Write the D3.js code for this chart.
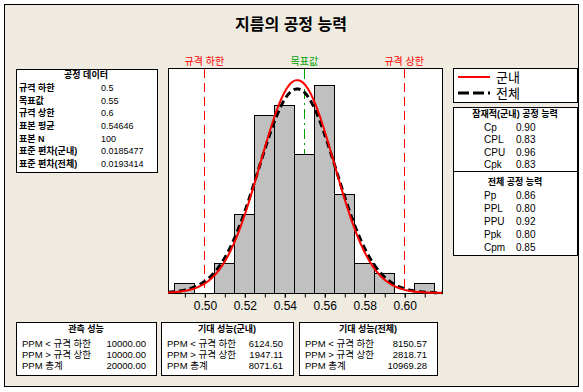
<!DOCTYPE html>
<html>
<head>
<meta charset="utf-8">
<script src="https://cdn.jsdelivr.net/npm/d3@7"></script>
<style>
  body { margin: 0; background: #fff; }
  svg text { font-family: "Liberation Sans", "Noto Sans CJK KR", sans-serif; }
</style>
</head>
<body>
<svg id="chart"></svg>
<script>
var width = 583;
var height = 392;

// histogram data (bin centres, counts)
var binCenters = [0.49, 0.50, 0.51, 0.52, 0.53, 0.54, 0.55, 0.56, 0.57, 0.58, 0.59, 0.60, 0.61];
var binCounts = [1, 0, 3, 8, 18, 19, 14, 21, 10, 3, 2, 0, 1];
var binWidth = 0.01;
var xTicks = [0.50, 0.52, 0.54, 0.56, 0.58, 0.60];
var xMinorTicks = [0.49, 0.50, 0.51, 0.52, 0.53, 0.54, 0.55, 0.56, 0.57, 0.58, 0.59, 0.60, 0.61];

// process
var lsl = 0.5, target = 0.55, usl = 0.6;
var sampleMean = 0.54646, sampleN = 100;
var sigmaWithin = 0.0185477, sigmaOverall = 0.0193414;

var processLabels = ['규격 하한', '목표값', '규격 상한', '표본 평균', '표본 N', '표준 편차(군내)', '표준 편차(전체)'];
var processValues = ['0.5', '0.55', '0.6', '0.54646', '100', '0.0185477', '0.0193414'];

var withinLabels = ['Cp', 'CPL', 'CPU', 'Cpk'];
var withinValues = ['0.90', '0.83', '0.96', '0.83'];
var overallLabels = ['Pp', 'PPL', 'PPU', 'Ppk', 'Cpm'];
var overallValues = ['0.86', '0.80', '0.92', '0.80', '0.85'];

var ppmLabels = ['PPM < 규격 하한', 'PPM > 규격 상한', 'PPM 총계'];
var ppmObserved = ['10000.00', '10000.00', '20000.00'];
var ppmWithin = ['6124.50', '1947.11', '8071.61'];
var ppmOverall = ['8150.57', '2818.71', '10969.28'];

var svg = d3.select('#chart')
    .attr('width', width)
    .attr('height', height);

// outer panel
svg.append('rect')
    .attr('x', 4.5).attr('y', 4.5)
    .attr('width', 574).attr('height', 382)
    .attr('fill', '#efebe1')
    .attr('stroke', '#000');

svg.append('text')
    .attr('x', 291).attr('y', 30)
    .attr('text-anchor', 'middle')
    .style('font-size', '16px')
    .style('font-weight', 'bold')
    .text('지름의 공정 능력');

// plot area
var plot = { left: 168, top: 68, right: 442, bottom: 293 };

var x = d3.scaleLinear()
    .domain([0.4818, 0.6189])
    .range([plot.left, plot.right]);

var y = d3.scaleLinear()
    .domain([0, 22.73])
    .range([plot.bottom, plot.top]);

svg.append('rect')
    .attr('x', plot.left + 0.5).attr('y', plot.top + 0.5)
    .attr('width', plot.right - plot.left).attr('height', plot.bottom - plot.top)
    .attr('fill', '#fff')
    .attr('stroke', '#000');

// spec lines
[lsl, usl].forEach(function (v) {
    svg.append('line')
        .attr('x1', Math.round(x(v)) + 0.5).attr('x2', Math.round(x(v)) + 0.5)
        .attr('y1', plot.top + 1).attr('y2', plot.bottom)
        .attr('stroke', '#ff0000')
        .attr('stroke-dasharray', '9,5');
});
svg.append('line')
    .attr('x1', Math.round(x(target)) + 0.5).attr('x2', Math.round(x(target)) + 0.5)
    .attr('y1', plot.top + 1).attr('y2', plot.bottom)
    .attr('stroke', '#00a000')
    .attr('stroke-dasharray', '10,4,2,4');

var specLabels = [
    { v: lsl, t: '규격 하한', c: '#ff0000' },
    { v: target, t: '목표값', c: '#00a000' },
    { v: usl, t: '규격 상한', c: '#ff0000' }
];
svg.selectAll('.spec-label')
    .data(specLabels)
    .enter().append('text')
    .attr('x', function (d) { return x(d.v); })
    .attr('y', 65)
    .attr('text-anchor', 'middle')
    .attr('fill', function (d) { return d.c; })
    .style('font-size', '10px')
    .text(function (d) { return d.t; });

// histogram bars
svg.selectAll('.bar')
    .data(binCenters.map(function (c, i) { return { c: c, n: binCounts[i] }; })
        .filter(function (d) { return d.n > 0; }))
    .enter().append('rect')
    .attr('x', function (d) { return Math.round(x(d.c - binWidth / 2)) + 0.5; })
    .attr('width', function (d) { return Math.round(x(d.c + binWidth / 2)) - Math.round(x(d.c - binWidth / 2)); })
    .attr('y', function (d) { return Math.round(y(d.n)) + 0.5; })
    .attr('height', function (d) { return plot.bottom - Math.round(y(d.n)); })
    .attr('fill', '#c0c0c0')
    .attr('stroke', '#000');

// fitted normal curves
function normalCurve(sigma) {
    var k = sampleN * binWidth / (sigma * Math.sqrt(2 * Math.PI));
    return d3.range(0, 201).map(function (i) {
        var v = x.domain()[0] + (x.domain()[1] - x.domain()[0]) * i / 200;
        var z = (v - sampleMean) / sigma;
        return [v, k * Math.exp(-0.5 * z * z)];
    });
}

var line = d3.line()
    .x(function (d) { return x(d[0]); })
    .y(function (d) { return y(d[1]); })
    .curve(d3.curveBasis);

svg.append('path')
    .attr('d', line(normalCurve(sigmaOverall)))
    .attr('fill', 'none')
    .attr('stroke', '#000')
    .attr('stroke-width', 3)
    .attr('stroke-dasharray', '7,4');

svg.append('path')
    .attr('d', line(normalCurve(sigmaWithin)))
    .attr('fill', 'none')
    .attr('stroke', '#ff0000')
    .attr('stroke-width', 2);

// x axis
var xAxis = d3.axisBottom(x)
    .tickValues(xTicks)
    .tickFormat(d3.format('.2f'))
    .tickSize(4)
    .tickPadding(4);

var gAxis = svg.append('g')
    .attr('transform', 'translate(0.5,' + (plot.bottom + 0.5) + ')')
    .call(xAxis);
gAxis.select('.domain').remove();
gAxis.selectAll('text').style('font-size', '12px').style('font-family', '"Liberation Sans", sans-serif');

svg.append('g')
    .attr('transform', 'translate(0.5,' + (plot.bottom + 0.5) + ')')
    .call(d3.axisBottom(x).tickValues(xMinorTicks).tickSize(4).tickFormat(''))
    .select('.domain').remove();

// helpers
function box(bx, by, bw, bh) {
    svg.append('rect')
        .attr('x', bx + 0.5).attr('y', by + 0.5)
        .attr('width', bw).attr('height', bh)
        .attr('fill', '#fff')
        .attr('stroke', '#000');
}

function label(tx, ty, t, anchor, size, bold) {
    return svg.append('text')
        .attr('x', tx).attr('y', ty)
        .attr('text-anchor', anchor || 'start')
        .style('font-size', (size || 9) + 'px')
        .style('font-weight', bold ? 'bold' : 'normal')
        .text(t);
}

// process data box
box(16, 69, 141, 103);
label(86, 78, '공정 데이터', 'middle', 9, true);
processLabels.forEach(function (t, i) {
    var yy = 91 + i * 12.67;
    label(19, yy, t, 'start', 9, true);
    label(101, yy, processValues[i], 'start', 9);
});

// legend box
box(453, 68, 124, 34);
svg.append('line')
    .attr('x1', 458).attr('x2', 490).attr('y1', 77).attr('y2', 77)
    .attr('stroke', '#ff0000').attr('stroke-width', 2);
svg.append('line')
    .attr('x1', 458).attr('x2', 490).attr('y1', 93).attr('y2', 93)
    .attr('stroke', '#000').attr('stroke-width', 3).attr('stroke-dasharray', '11,4');
label(496, 82, '군내', 'start', 13);
label(496, 98, '전체', 'start', 13);

// capability box
box(453, 107, 124, 148);
svg.append('line')
    .attr('x1', 453).attr('x2', 577).attr('y1', 171.5).attr('y2', 171.5)
    .attr('stroke', '#000');
label(515, 117, '잠재적(군내) 공정 능력', 'middle', 9, true);
withinLabels.forEach(function (t, i) {
    var yy = 130.5 + i * 12.6;
    label(484, yy, t, 'start', 10);
    label(516, yy, withinValues[i], 'start', 10);
});
label(515, 184.5, '전체 공정 능력', 'middle', 9, true);
overallLabels.forEach(function (t, i) {
    var yy = 198.5 + i * 13;
    label(484, yy, t, 'start', 10);
    label(516, yy, overallValues[i], 'start', 10);
});

// ppm boxes
var ppmBoxes = [
    { x: 16, w: 140, title: '관측 성능', vals: ppmObserved },
    { x: 161, w: 132, title: '기대 성능(군내)', vals: ppmWithin },
    { x: 299, w: 138, title: '기대 성능(전체)', vals: ppmOverall }
];
ppmBoxes.forEach(function (b) {
    box(b.x, 322, b.w, 53);
    label(b.x + b.w / 2, 331.5, b.title, 'middle', 9, true);
    ppmLabels.forEach(function (t, i) {
        var yy = 346.5 + i * 11;
        label(b.x + 6, yy, t, 'start', 9.5);
        label(b.x + b.w - 10, yy, b.vals[i], 'end', 9.5);
    });
});
</script>
</body>
</html>
